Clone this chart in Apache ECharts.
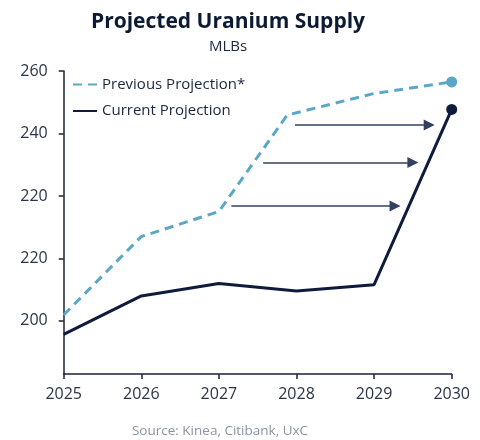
<!DOCTYPE html>
<html>
<head>
<meta charset="utf-8">
<script src="https://cdn.jsdelivr.net/npm/echarts@6/dist/echarts.min.js"></script>
<style>html,body{margin:0;padding:0;background:#fff}#c{width:480px;height:440px}</style>
</head>
<body>
<div id="c"></div>
<script>
// Data (y in the axis' linear scale; labels as printed)
const years = [2025, 2026, 2027, 2028, 2029, 2030];
const prevX = [2025, 2026, 2027, 2027.88, 2029, 2030];
const prevValues = [201.9, 227.0, 235.0, 265.9, 272.8, 276.5];
const currValues = [195.7, 208.0, 212.0, 209.6, 211.6, 267.7];
const yTickValues = [200, 220, 240, 260, 280];
const yTickLabels = ['200', '220', '220', '240', '260'];
// arrows: [startX, endX, y]
const arrows = [
  [2027.98, 2029.71, 262.7],
  [2027.57, 2029.50, 250.7],
  [2027.16, 2029.27, 236.8]
];
const seriesNames = ['Previous Projection*', 'Current Projection'];

const FONT = 'Open Sans';
const NAVY = '#0e1b3d';
const TEAL = '#5aa7c6';

const toPairs = (xs, vs) => vs.map((v, i) => [xs[i], v]);
const lastPair = (xs, vs) => [[xs[xs.length - 1], vs[vs.length - 1]]];

const chart = echarts.init(document.getElementById('c'), null, { renderer: 'canvas' });
chart.setOption({
  animation: false,
  title: {
    text: 'Projected Uranium Supply',
    subtext: 'MLBs',
    left: 223,
    textAlign: 'center',
    top: 7,
    itemGap: 6,
    textStyle: { fontFamily: FONT, fontSize: 21, fontWeight: 'bold', color: '#0d1a33' },
    subtextStyle: { fontFamily: FONT, fontSize: 15, color: '#1c2640' }
  },
  legend: {
    orient: 'vertical',
    left: 67,
    top: 72,
    itemWidth: 24,
    itemHeight: 14,
    itemGap: 11.5,
    data: seriesNames,
    itemStyle: { color: 'rgba(0,0,0,0)', borderColor: 'rgba(0,0,0,0)', borderWidth: 0, opacity: 0 },
    textStyle: { fontFamily: FONT, fontSize: 15, color: '#1c2640' }
  },
  grid: { left: 63.7, right: 28.3, top: 71, bottom: 66 },
  xAxis: {
    type: 'value',
    min: 2025,
    max: 2030,
    interval: 1,
    axisLine: { show: true, lineStyle: { color: '#1a2236', width: 1.5 } },
    axisTick: { show: true, length: 5, lineStyle: { color: '#1a2236', width: 1.5 } },
    splitLine: { show: false },
    axisLabel: {
      margin: 12,
      fontFamily: FONT, fontSize: 16, color: '#2a3347',
      formatter: v => String(v)
    }
  },
  yAxis: {
    type: 'value',
    min: 183,
    max: 280,
    axisLine: { show: true, lineStyle: { color: '#1a2236', width: 1.5 } },
    axisTick: { show: true, length: 5, customValues: yTickValues, lineStyle: { color: '#1a2236', width: 1.5 } },
    splitLine: { show: false },
    axisLabel: {
      customValues: yTickValues,
      margin: 16,
      fontFamily: FONT, fontSize: 16, color: '#2a3347',
      formatter: v => { const i = yTickValues.indexOf(v); return i >= 0 ? yTickLabels[i] : ''; }
    }
  },
  series: [
    {
      name: seriesNames[0],
      type: 'line',
      symbol: 'none',
      data: toPairs(prevX, prevValues),
      lineStyle: { color: TEAL, width: 3, type: [9, 6] },
      itemStyle: { color: TEAL }
    },
    {
      name: seriesNames[1],
      type: 'line',
      symbol: 'none',
      data: toPairs(years, currValues),
      lineStyle: { color: NAVY, width: 3 },
      itemStyle: { color: NAVY },
      markLine: {
        silent: true,
        symbol: ['none', 'triangle'],
        symbolSize: [11, 11],
        label: { show: false },
        lineStyle: { color: '#334060', width: 1.5, type: 'solid' },
        data: arrows.map(a => [{ coord: [a[0], a[2]] }, { coord: [a[1], a[2]] }])
      }
    },
    {
      name: 'prevEnd',
      type: 'scatter',
      symbol: 'circle',
      symbolSize: 11,
      data: lastPair(prevX, prevValues),
      itemStyle: { color: TEAL, opacity: 1 }
    },
    {
      name: 'currEnd',
      type: 'scatter',
      symbol: 'circle',
      symbolSize: 11,
      data: lastPair(years, currValues),
      itemStyle: { color: NAVY, opacity: 1 }
    }
  ],
  graphic: [
    {
      type: 'text',
      x: 220,
      y: 431,
      style: {
        text: 'Source: Kinea, Citibank, UxC',
        fontFamily: FONT, fontSize: 13.5, fill: '#8a93a5',
        textAlign: 'center',
        textVerticalAlign: 'middle'
      }
    }
  ]
});
</script>
</body>
</html>
